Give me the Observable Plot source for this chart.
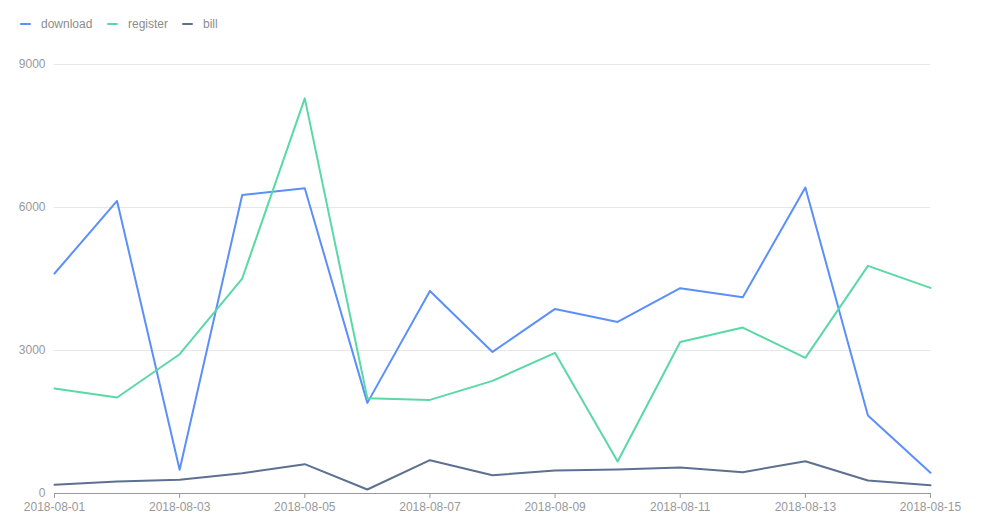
<!DOCTYPE html>
<html>
<head>
<meta charset="utf-8">
<script src="https://cdn.jsdelivr.net/npm/d3@7"></script>
<script src="https://cdn.jsdelivr.net/npm/@observablehq/plot@0.6"></script>
<style>
  html, body { margin: 0; padding: 0; background: #fff; }
  body { width: 990px; height: 527px; overflow: hidden; font-family: "Liberation Sans", Arial, sans-serif; }
  #legend { height: 46px; position: relative; font-size: 12px; color: #8c8c8c; }
  .item { position: absolute; top: 17px; display: flex; align-items: center; }
  .sw { width: 11px; height: 2px; margin-right: 10px; border-radius: 1px; }
</style>
</head>
<body>
<div id="legend"></div>
<div id="chart"></div>
<script>
const dates = ["2018-08-01","2018-08-02","2018-08-03","2018-08-04","2018-08-05","2018-08-06","2018-08-07","2018-08-08","2018-08-09","2018-08-10","2018-08-11","2018-08-12","2018-08-13","2018-08-14","2018-08-15"];
const download = [4615, 6138, 497, 6264, 6405, 1901, 4250, 2970, 3872, 3600, 4307, 4118, 6419, 1636, 434];
const register = [2203, 2014, 2922, 4510, 8290, 1999, 1964, 2362, 2950, 671, 3180, 3482, 2845, 4775, 4313];
const bill = [183, 250, 287, 426, 615, 84, 699, 384, 482, 503, 545, 447, 678, 273, 174];
const seriesNames = ["download", "register", "bill"];
const seriesColors = ["#5B8FF9", "#5AD8A6", "#5D7092"];
const yTicks = [0, 3000, 6000, 9000];
const xTickLabels = ["2018-08-01","2018-08-03","2018-08-05","2018-08-07","2018-08-09","2018-08-11","2018-08-13","2018-08-15"];

const parse = d3.utcParse("%Y-%m-%d");
const seriesValues = [download, register, bill];
const rows = [];
seriesNames.forEach((name, si) => {
  dates.forEach((d, i) => rows.push({date: parse(d), value: seriesValues[si][i], series: name}));
});

// legend
const legend = document.getElementById("legend");
const legendX = [20, 107, 182];
seriesNames.forEach((name, i) => {
  const it = document.createElement("div");
  it.className = "item";
  it.style.left = legendX[i] + "px";
  it.innerHTML = `<span class="sw" style="background:${seriesColors[i]}"></span><span>${name}</span>`;
  legend.appendChild(it);
});

const chart = Plot.plot({
  width: 990,
  height: 481,
  marginTop: 18,
  marginBottom: 34,
  marginLeft: 54,
  marginRight: 60,
  style: { fontFamily: "'Liberation Sans', Arial, sans-serif", fontSize: "12px", color: "#8c8c8c", background: "#fff" },
  x: { type: "utc", domain: [parse(dates[0]), parse(dates[dates.length - 1])] },
  y: { domain: [0, 9000] },
  color: { domain: seriesNames, range: seriesColors },
  marks: [
    Plot.gridY(yTicks, { stroke: "#e8e8e8", strokeOpacity: 1 }),
    Plot.axisY(yTicks, { tickSize: 0, tickPadding: 9, label: null, fill: "#999", fontSize: 12, tickFormat: d3.format("d") }),
    Plot.ruleY([0], { stroke: "#999", strokeWidth: 1 }),
    Plot.axisX(xTickLabels.map(parse), { tickSize: 5, tickPadding: 4, stroke: "#999", fill: "#999", label: null, tickFormat: d3.utcFormat("%Y-%m-%d"), fontSize: 12 }),
    Plot.line(rows, { x: "date", y: "value", z: "series", stroke: "series", strokeWidth: 2, strokeLinejoin: "round" })
  ]
});
document.getElementById("chart").appendChild(chart);
</script>
</body>
</html>
